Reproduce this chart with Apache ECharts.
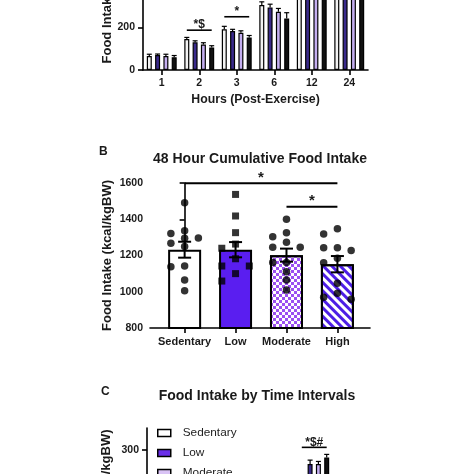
<!DOCTYPE html>
<html>
<head>
<meta charset="utf-8">
<script src="https://cdn.jsdelivr.net/npm/echarts@6.0.0/dist/echarts.min.js"></script>
<style>
html, body { margin: 0; padding: 0; background: #fff; }
#main { width: 474px; height: 474px; }
</style>
</head>
<body>
<div id="main"></div>
<script>
// A: food intake at each hour after exercise (top of panel is cut off)
var hours = ['1', '2', '3', '6', '12', '24'];
var hourSed = [66, 145, 191, 305, 430, 620];
var hourLow = [70, 130, 183, 294, 420, 600];
var hourMod = [66, 120, 175, 273, 405, 590];
var hourHigh = [60, 106, 153, 242, 395, 570];
var hourSedErr = [8, 8, 14, 15, 20, 25];
var hourLowErr = [5, 7, 8, 15, 20, 25];
var hourModErr = [8, 8, 9, 16, 20, 25];
var hourHighErr = [8, 8, 9, 27, 20, 25];
var hourSig = [[1, 187], [2, 250]];
var hourSigText = ['*$', '*'];

// B: 48 h cumulative intake
var levels = ['Sedentary', 'Low', 'Moderate', 'High'];
var cumMean = [1232, 1232, 1202, 1152];
var cumSem = [44, 42, 36, 45];
var cumSed = [1491, 1337, 1322, 1297, 1295, 1267, 1250, 1142, 1138, 1065, 1006];
var cumLow = [1537, 1418, 1326, 1263, 1240, 1182, 1142, 1142, 1100, 1059];
var cumMod = [1400, 1326, 1304, 1273, 1245, 1245, 1162, 1162, 1111, 1065, 1010];
var cumHigh = [1348, 1318, 1243, 1243, 1227, 1185, 1160, 1047, 992, 969, 958];
var cumSig = [[0, 3, 1598], [2, 3, 1469]];
var cumSigText = ['*', '*'];

// C: intake by time interval (bottom of panel is cut off)
var intervals = ['0-1', '1-2', '2-3', '3-6', '6-12', '12-24'];
var intSed = [66, 79, 46, 114, 230, 190];
var intLow = [70, 60, 53, 111, 268, 180];
var intMod = [66, 54, 55, 98, 268, 185];
var intHigh = [60, 46, 47, 89, 283, 200];
var intSedErr = [8, 8, 8, 10, 8, 10];
var intLowErr = [5, 7, 8, 10, 9, 10];
var intModErr = [8, 8, 8, 10, 6, 10];
var intHighErr = [8, 8, 8, 10, 7, 10];
var intSig = [[4, 306]];
var intSigText = ['*$#'];

var FONT = '"Liberation Sans", Arial, sans-serif';
var INK = '#1a1a1a';
var PURPLE = '#5a1ef0';
var BAR_W = 5, BAR_GAP = 0.66;
var PITCH = BAR_W * (1 + BAR_GAP);

var checker = { symbol: 'rect', symbolSize: 1, color: '#9b4ff2', dashArrayX: [[3, 3], [0, 3, 3, 0]], dashArrayY: [3, 0] };
var stripes = { symbol: 'rect', symbolSize: 1, color: '#4d1ee6', dashArrayX: [1, 0], dashArrayY: [3, 3], rotation: Math.PI / 4 };

var bigStyles = [
    { color: '#fff', borderColor: '#000', borderWidth: 2 },
    { color: PURPLE, borderColor: '#000', borderWidth: 2 },
    { color: '#fff', borderColor: '#000', borderWidth: 2, decal: checker },
    { color: '#fff', borderColor: '#000', borderWidth: 2, decal: stripes }
];
var smallStyles = [
    { color: '#f2f2f2', borderColor: '#000', borderWidth: 1.2 },
    { color: '#3a2a8c', borderColor: '#000', borderWidth: 1.2 },
    { color: '#c4aef0', borderColor: '#000', borderWidth: 1.2 },
    { color: '#111', borderColor: '#000', borderWidth: 1.2 }
];

var line = { show: true, lineStyle: { color: '#000', width: 1.6 } };
var tick = { show: true, length: 5, lineStyle: { color: '#000', width: 1.6 } };
var lab = { color: INK, fontSize: 10.5, fontWeight: 'bold', fontFamily: FONT, margin: 8 };
var nameFont = { color: INK, fontSize: 13, fontWeight: 'bold', fontFamily: FONT };
var plain = function (v) { return String(v); };

// simple beeswarm: spread points that would overlap into side slots
function swarm(vals, thresh) {
    var placed = [], slots = [];
    var order = vals.map(function (v, i) { return i; }).sort(function (a, b) { return vals[b] - vals[a]; });
    order.forEach(function (i) {
        var tries = [0, -1, 1, -2, 2];
        for (var k = 0; k < tries.length; k++) {
            var t = tries[k];
            var clash = placed.some(function (p) { return p.s === t && Math.abs(p.v - vals[i]) < thresh; });
            if (!clash) { placed.push({ s: t, v: vals[i] }); slots[i] = t; break; }
        }
    });
    return slots;
}

function points(vals, idx) {
    var s = swarm(vals, 42);
    return vals.map(function (v, i) { return [idx + s[i] * 0.27, v]; });
}

// error bars for grouped bars on a category axis
function groupedErr(means, errs) {
    var d = [];
    means.forEach(function (m, s) {
        m.forEach(function (v, g) { d.push([g, s, v, errs[s][g]]); });
    });
    return d;
}

function renderGroupedErr(params, api) {
    var p = api.coord([api.value(0), api.value(2)]);
    var top = api.coord([api.value(0), api.value(2) + api.value(3)]);
    var x = p[0] + (api.value(1) - 1.5) * PITCH;
    return {
        type: 'group',
        children: [
            { type: 'line', shape: { x1: x, y1: p[1], x2: x, y2: top[1] }, style: { stroke: '#000', lineWidth: 1.2 } },
            { type: 'line', shape: { x1: x - 2.5, y1: top[1], x2: x + 2.5, y2: top[1] }, style: { stroke: '#000', lineWidth: 1.2 } }
        ]
    };
}

function renderCatSig(texts) {
    return function (params, api) {
        var p = api.coord([api.value(0), api.value(1)]);
        var half = 1.5 * PITCH;
        return {
            type: 'group',
            children: [
                { type: 'line', shape: { x1: p[0] - half, y1: p[1], x2: p[0] + half, y2: p[1] }, style: { stroke: '#000', lineWidth: 1.6 } },
                { type: 'text', style: { text: texts[params.dataIndex], x: p[0], y: p[1] + 1, align: 'center', verticalAlign: 'bottom', fontSize: 12, fontWeight: 'bold', fontFamily: FONT, fill: INK } }
            ]
        };
    };
}

function renderCumErr(params, api) {
    var i = api.value(0), m = api.value(1), e = api.value(2);
    var hi = api.coord([i, m + e]), lo = api.coord([i, m - e]);
    var st = { stroke: '#000', lineWidth: 2 };
    return {
        type: 'group',
        children: [
            { type: 'line', shape: { x1: hi[0], y1: hi[1], x2: lo[0], y2: lo[1] }, style: st },
            { type: 'line', shape: { x1: hi[0] - 6.5, y1: hi[1], x2: hi[0] + 6.5, y2: hi[1] }, style: st },
            { type: 'line', shape: { x1: lo[0] - 6.5, y1: lo[1], x2: lo[0] + 6.5, y2: lo[1] }, style: st }
        ]
    };
}

function renderCumSig(params, api) {
    var a = api.coord([api.value(0), api.value(2)]);
    var b = api.coord([api.value(1), api.value(2)]);
    return {
        type: 'group',
        children: [
            { type: 'line', shape: { x1: a[0], y1: a[1], x2: b[0], y2: b[1] }, style: { stroke: '#000', lineWidth: 2 } },
            { type: 'text', style: { text: cumSigText[params.dataIndex], x: (a[0] + b[0]) / 2, y: a[1] + 2, align: 'center', verticalAlign: 'bottom', fontSize: 15, fontWeight: 'bold', fontFamily: FONT, fill: INK } }
        ]
    };
}

var chart = echarts.init(document.getElementById('main'), null, { renderer: 'canvas' });

var series = [];
var hourVals = [hourSed, hourLow, hourMod, hourHigh];
var intVals = [intSed, intLow, intMod, intHigh];
levels.forEach(function (n, s) {
    series.push({ name: 'A ' + n, type: 'bar', xAxisIndex: 0, yAxisIndex: 0, data: hourVals[s], barWidth: BAR_W, barGap: (BAR_GAP * 100) + '%', itemStyle: smallStyles[s], z: 2 });
});
levels.forEach(function (n, s) {
    series.push({ name: n, type: 'bar', xAxisIndex: 2, yAxisIndex: 2, data: intVals[s], barWidth: BAR_W, barGap: (BAR_GAP * 100) + '%', itemStyle: smallStyles[s], z: 2 });
});
series.push({ type: 'custom', xAxisIndex: 0, yAxisIndex: 0, data: groupedErr(hourVals, [hourSedErr, hourLowErr, hourModErr, hourHighErr]), renderItem: renderGroupedErr, clip: true, z: 3 });
series.push({ type: 'custom', xAxisIndex: 2, yAxisIndex: 2, data: groupedErr(intVals, [intSedErr, intLowErr, intModErr, intHighErr]), renderItem: renderGroupedErr, clip: true, z: 3 });
series.push({ type: 'custom', xAxisIndex: 0, yAxisIndex: 0, data: hourSig, renderItem: renderCatSig(hourSigText), z: 4 });
series.push({ type: 'custom', xAxisIndex: 2, yAxisIndex: 2, data: intSig, renderItem: renderCatSig(intSigText), z: 4 });

series.push({
    name: 'B mean', type: 'bar', xAxisIndex: 1, yAxisIndex: 1, barWidth: 33, clip: true, z: 2,
    data: cumMean.map(function (v, i) { return { value: [i, v], itemStyle: bigStyles[i] }; })
});
series.push({ type: 'custom', xAxisIndex: 1, yAxisIndex: 1, data: cumMean.map(function (v, i) { return [i, v, cumSem[i]]; }), renderItem: renderCumErr, z: 3 });
[cumSed, cumLow, cumMod, cumHigh].forEach(function (vals, i) {
    series.push({
        name: 'B ' + levels[i], type: 'scatter', xAxisIndex: 1, yAxisIndex: 1, z: 4,
        symbol: i === 1 ? 'rect' : 'circle', symbolSize: i === 1 ? 7 : 7.5,
        itemStyle: { color: '#000' }, data: points(vals, i)
    });
});
series.push({ type: 'custom', xAxisIndex: 1, yAxisIndex: 1, data: cumSig, renderItem: renderCumSig, z: 5 });

var option = {
    backgroundColor: '#fff',
    animation: false,
    textStyle: { fontFamily: FONT },
    grid: [
        { left: 143, right: 106, top: -94, height: 164, outerBoundsMode: 'none', containLabel: false },
        { left: 150, right: 104, top: 183, height: 145, outerBoundsMode: 'none', containLabel: false },
        { left: 147, right: 104, top: 428, height: 154, outerBoundsMode: 'none', containLabel: false }
    ],
    xAxis: [
        {
            type: 'category', gridIndex: 0, data: hours,
            axisLine: line, axisTick: Object.assign({ alignWithLabel: true }, tick), axisLabel: lab,
            name: 'Hours (Post-Exercise)', nameLocation: 'middle', nameGap: 24,
            nameTextStyle: Object.assign({}, nameFont, { fontSize: 12.3 })
        },
        {
            type: 'value', gridIndex: 1, min: -0.68, max: 3.64, splitLine: { show: false },
            axisLine: line,
            axisTick: Object.assign({ customValues: [0, 1, 2, 3] }, tick),
            axisLabel: Object.assign({ customValues: [0, 1, 2, 3], formatter: function (v) { return levels[Math.round(v)]; } }, lab, { fontSize: 11 })
        },
        {
            type: 'category', gridIndex: 2, data: intervals,
            axisLine: line, axisTick: Object.assign({ alignWithLabel: true }, tick), axisLabel: lab
        }
    ],
    yAxis: [
        {
            type: 'value', gridIndex: 0, min: 0, max: 770, interval: 200, splitLine: { show: false },
            axisLine: line, axisTick: tick, axisLabel: Object.assign({ formatter: plain, showMaxLabel: false }, lab),
            name: 'Food Intake (kcal/kgBW)', nameLocation: 'middle', nameGap: 29, nameTextStyle: nameFont
        },
        {
            type: 'value', gridIndex: 1, min: 800, max: 1600, interval: 200, splitLine: { show: false },
            axisLine: line, axisTick: tick, axisLabel: Object.assign({ formatter: plain }, lab, { margin: 7 }),
            name: 'Food Intake (kcal/kgBW)', nameLocation: 'middle', nameGap: 36, nameTextStyle: nameFont
        },
        {
            type: 'value', gridIndex: 2, min: 0, max: 350, interval: 100, splitLine: { show: false },
            axisLine: line, axisTick: tick, axisLabel: Object.assign({ formatter: plain, showMaxLabel: false }, lab),
            name: 'Food Intake (kcal/kgBW)', nameLocation: 'middle', nameGap: 34, nameTextStyle: nameFont
        }
    ],
    legend: {
        orient: 'vertical', left: 157, top: 427, height: 200, itemWidth: 13, itemHeight: 7, itemGap: 8,
        icon: 'rect', selectedMode: false, padding: 0,
        textStyle: { color: '#222', fontSize: 11.8, fontFamily: FONT, padding: [0, 0, 0, 7] },
        data: [
            { name: 'Sedentary', itemStyle: { color: '#fff', borderColor: '#000', borderWidth: 1.5 } },
            { name: 'Low', itemStyle: { color: '#6a2ee8', borderColor: '#000', borderWidth: 1.5 } },
            { name: 'Moderate', itemStyle: { color: '#d9c3f5', borderColor: '#000', borderWidth: 1.5 } },
            { name: 'High', itemStyle: { color: '#4d1ee6', borderColor: '#000', borderWidth: 1.5 } }
        ]
    },
    graphic: [
        { type: 'text', x: 99, y: 146, style: { text: 'B', fontSize: 12, fontWeight: 'bold', fontFamily: FONT, fill: INK } },
        { type: 'text', x: 260, y: 159, style: { text: '48 Hour Cumulative Food Intake', align: 'center', verticalAlign: 'middle', fontSize: 14, fontWeight: 'bold', fontFamily: FONT, fill: INK } },
        { type: 'text', x: 101, y: 386, style: { text: 'C', fontSize: 12, fontWeight: 'bold', fontFamily: FONT, fill: INK } },
        { type: 'text', x: 257, y: 396, style: { text: 'Food Intake by Time Intervals', align: 'center', verticalAlign: 'middle', fontSize: 14, fontWeight: 'bold', fontFamily: FONT, fill: INK } }
    ],
    series: series
};

chart.setOption(option);
</script>
</body>
</html>
